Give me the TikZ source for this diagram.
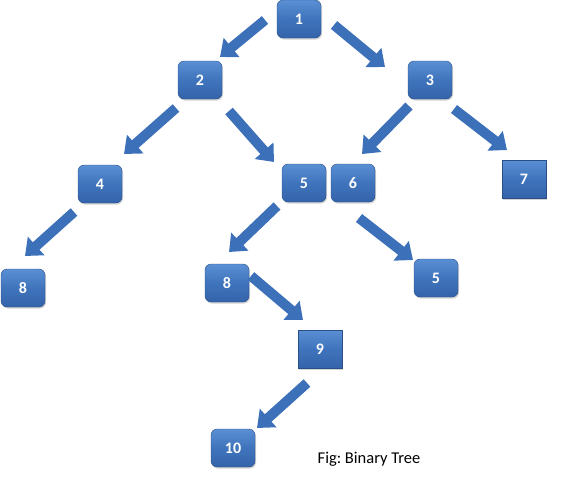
\documentclass[tikz,border=0pt]{standalone}
\usepackage{fontspec}
\setmainfont{Carlito}
\frenchspacing
\usetikzlibrary{arrows.meta,shadows}
\definecolor{boxtop}{HTML}{5A8FD4}
\definecolor{boxmid}{HTML}{3F74BC}
\definecolor{boxbot}{HTML}{3463AA}
\definecolor{arrowblue}{HTML}{3C70B8}
\tikzset{
  tbox/.style={rectangle, rounded corners=6pt, minimum width=44pt, minimum height=38pt, inner sep=0pt,
    top color=boxtop, bottom color=boxbot, middle color=boxmid, draw=boxbot!80!black, line width=0.4pt,
    text=white, font=\fontsize{16}{18}\selectfont\bfseries,
    drop shadow={opacity=0.35, shadow xshift=1pt, shadow yshift=-1.5pt}},
  sqbox/.style={tbox, sharp corners},
  barrow/.style={draw=arrowblue, line width=10pt, -{Triangle[width=24pt,length=15pt]}}
}
\begin{document}
\begin{tikzpicture}[x=1pt,y=-1pt]
\useasboundingbox (0,0) rectangle (561,477);
% nodes
\node[tbox] (n1) at (299,19) {1};
\node[tbox] (n2) at (200,80) {2};
\node[tbox] (n3) at (430,80) {3};
\node[tbox] (n4) at (100,184) {4};
\node[tbox] (n5) at (304,183) {5};
\node[tbox] (n6) at (353,183) {6};
\node[sqbox] (n7) at (524,179) {7};
\node[tbox] (n8a) at (23,288) {8};
\node[tbox] (n8b) at (227,283) {8};
\node[tbox] (n5b) at (436,278) {5};
\node[sqbox] (n9) at (320,349) {9};
\node[tbox] (n10) at (233,448) {10};
\node[font=\fontsize{16.5}{18}\selectfont] (cap) at (369,459) {Fig: Binary Tree};
% arrow end points
\coordinate (a12t) at (265,20);  \coordinate (a12h) at (220,57);
\coordinate (a13t) at (334,25);  \coordinate (a13h) at (385,67);
\coordinate (a24t) at (176,108); \coordinate (a24h) at (124,154);
\coordinate (a25t) at (229,111); \coordinate (a25h) at (274,162);
\coordinate (a36t) at (409,106); \coordinate (a36h) at (362,154);
\coordinate (a37t) at (454,109); \coordinate (a37h) at (507,150);
\coordinate (a48t) at (74,212);  \coordinate (a48h) at (25,256);
\coordinate (a58t) at (277,206); \coordinate (a58h) at (229,252);
\coordinate (a65t) at (359,218); \coordinate (a65h) at (413,260);
\coordinate (a89t) at (251,276); \coordinate (a89h) at (303,320);
\coordinate (a910t) at (307,383); \coordinate (a910h) at (257,428);
\foreach \a in {a12,a13,a24,a25,a36,a37,a48,a58,a65,a89,a910}
  \draw[barrow] (\a t) -- (\a h);
\end{tikzpicture}
\end{document}
